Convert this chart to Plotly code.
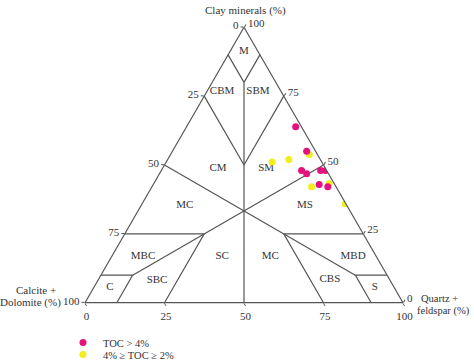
import plotly.graph_objects as go

# ---- data (percent) ----
# composition order: clay minerals, calcite+dolomite, quartz+feldspar
toc_high_clay = [63.9, 55.0, 48.0, 46.8, 48.0, 48.0, 42.9, 42.1]
toc_high_carb = [1.8, 2.8, 7.9, 6.9, 1.9, 0.3, 4.9, 2.6]
toc_high_qtz = [34.3, 42.2, 44.1, 46.3, 50.1, 51.7, 52.2, 55.3]

toc_mid_clay = [51.1, 52.0, 53.8, 42.1, 43.3, 35.9]
toc_mid_carb = [15.6, 9.9, 2.6, 7.7, 1.6, 0.2]
toc_mid_qtz = [33.3, 38.1, 43.6, 50.2, 55.1, 63.9]

# lithofacies boundary polylines: (clay, carbonate, quartz)
boundaries = [
    [(90, 10, 0), (80, 10, 10), (90, 0, 10)],
    [(80, 10, 10), (0, 50, 50)],
    [(75, 25, 0), (50, 25, 25), (75, 0, 25)],
    [(50, 50, 0), (10, 10, 80)],
    [(50, 0, 50), (10, 80, 10)],
    [(25, 75, 0), (25, 50, 25), (0, 75, 25)],
    [(25, 0, 75), (25, 25, 50), (0, 25, 75)],
    [(10, 90, 0), (10, 80, 10), (0, 90, 10)],
    [(10, 0, 90), (10, 10, 80), (0, 10, 90)],
]

# lithofacies labels
facies_names = ["M", "CBM", "SBM", "CM", "SM", "MC", "MS", "MBC", "SBC", "C",
                "SC", "MC", "MBD", "CBS", "S"]
facies_clay = [91.2, 76.6, 76.6, 48.9, 48.9, 35.4, 35.4, 16.7, 8.3, 5.7,
               16.7, 16.7, 17.0, 8.6, 5.7]
facies_carb = [4.4, 18.6, 7.3, 33.7, 18.6, 50.9, 13.1, 73.4, 73.2, 89.3,
               48.5, 33.4, 7.2, 18.7, 6.0]
facies_qtz = [4.4, 4.8, 16.1, 17.4, 32.5, 13.7, 51.5, 9.9, 18.5, 5.0,
              34.8, 49.9, 75.8, 72.7, 88.3]

tick_vals = [0, 25, 50, 75, 100]
tick_text = ["100", "75", "50", "25", "0"]

FONT = "Liberation Serif"
LINE = "#555555"
TXT = "#333333"
W, H = 474, 362

fig = go.Figure()

for seg in boundaries:
    fig.add_trace(go.Scatterternary(
        a=[p[0] for p in seg], b=[p[1] for p in seg], c=[p[2] for p in seg],
        mode="lines", line=dict(color=LINE, width=1.2),
        showlegend=False, hoverinfo="skip"))

fig.add_trace(go.Scatterternary(
    a=facies_clay, b=facies_carb, c=facies_qtz, text=facies_names,
    mode="text", textposition="middle center",
    textfont=dict(family=FONT, size=11, color=TXT),
    showlegend=False, hoverinfo="skip"))

fig.add_trace(go.Scatterternary(
    a=toc_mid_clay, b=toc_mid_carb, c=toc_mid_qtz,
    mode="markers", name="4% \u2265 TOC \u2265 2%", legend="legend2",
    marker=dict(color="#f2ee1c", size=7)))

fig.add_trace(go.Scatterternary(
    a=toc_high_clay, b=toc_high_carb, c=toc_high_qtz,
    mode="markers", name="TOC > 4%", legend="legend",
    marker=dict(color="#e5127d", size=7)))

axis_common = dict(
    title=dict(text=""),
    showgrid=False, showline=True, linecolor=LINE, linewidth=1.2,
    ticks="outside", ticklen=3, tickcolor=LINE, tickwidth=1,
    tickmode="array", tickvals=tick_vals, ticktext=tick_text,
    tickfont=dict(family=FONT, size=11, color=TXT), min=0,
)

legend_common = dict(
    xanchor="left", yanchor="top",
    font=dict(family=FONT, size=10.5, color=TXT),
    bgcolor="rgba(0,0,0,0)", borderwidth=0, tracegroupgap=0,
)

fig.update_layout(
    width=W, height=H,
    margin=dict(l=0, r=0, t=0, b=0, autoexpand=False),
    paper_bgcolor="white",
    ternary=dict(
        sum=100,
        bgcolor="white",
        domain=dict(x=[85 / W, 403 / W], y=[(H - 302.7) / H, (H - 27.3) / H]),
        aaxis=dict(axis_common),
        baxis=dict(axis_common),
        caxis=dict(axis_common),
    ),
    legend=dict(legend_common, x=63 / W, y=(H - 328) / H),
    legend2=dict(legend_common, x=63 / W, y=(H - 340) / H),
    annotations=[
        dict(text="Clay minerals (%)", x=245 / W, y=(H - 10) / H, xref="paper", yref="paper",
             showarrow=False, xanchor="center", yanchor="middle",
             font=dict(family=FONT, size=11, color=TXT)),
        dict(text="Calcite +", x=36 / W, y=(H - 290) / H, xref="paper", yref="paper",
             showarrow=False, xanchor="center", yanchor="middle",
             font=dict(family=FONT, size=11, color=TXT)),
        dict(text="Dolomite (%)", x=30 / W, y=(H - 302) / H, xref="paper", yref="paper",
             showarrow=False, xanchor="center", yanchor="middle",
             font=dict(family=FONT, size=11, color=TXT)),
        dict(text="Quartz +", x=419 / W, y=(H - 298) / H, xref="paper", yref="paper",
             showarrow=False, xanchor="left", yanchor="middle",
             font=dict(family=FONT, size=10.5, color=TXT)),
        dict(text="feldspar (%)", x=472 / W, y=(H - 311) / H, xref="paper", yref="paper",
             showarrow=False, xanchor="right", yanchor="middle",
             font=dict(family=FONT, size=10.5, color=TXT)),
    ],
)

fig.write_html("out.html", config={"displayModeBar": False},
               post_script="document.body.style.margin='0';")
